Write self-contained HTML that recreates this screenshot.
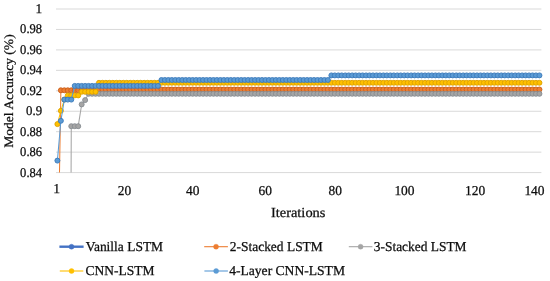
<!DOCTYPE html>
<html><head><meta charset="utf-8"><title>Model Accuracy chart</title>
<style>
html,body{margin:0;padding:0;background:#fff;}
body{width:550px;height:281px;overflow:hidden;}
svg{display:block;filter:blur(0.3px);}
text{text-rendering:geometricPrecision;font-family:"Liberation Serif","DejaVu Serif",serif;fill:#0d0d0d;stroke:#0d0d0d;stroke-width:0.25px;}
</style></head>
<body>
<svg width="550" height="281" viewBox="0 0 550 281">
<defs><clipPath id="pc"><rect x="53.0" y="6.0" width="491.4" height="166.6"/></clipPath></defs>
<rect width="550" height="281" fill="#fff"/>
<line x1="56.0" x2="541.4" y1="9.00" y2="9.00" stroke="#D9D9D9" stroke-width="1"/><line x1="56.0" x2="541.4" y1="29.45" y2="29.45" stroke="#D9D9D9" stroke-width="1"/><line x1="56.0" x2="541.4" y1="49.90" y2="49.90" stroke="#D9D9D9" stroke-width="1"/><line x1="56.0" x2="541.4" y1="70.35" y2="70.35" stroke="#D9D9D9" stroke-width="1"/><line x1="56.0" x2="541.4" y1="90.80" y2="90.80" stroke="#D9D9D9" stroke-width="1"/><line x1="56.0" x2="541.4" y1="111.25" y2="111.25" stroke="#D9D9D9" stroke-width="1"/><line x1="56.0" x2="541.4" y1="131.70" y2="131.70" stroke="#D9D9D9" stroke-width="1"/><line x1="56.0" x2="541.4" y1="152.15" y2="152.15" stroke="#D9D9D9" stroke-width="1"/><line x1="56.0" x2="541.4" y1="172.60" y2="172.60" stroke="#D9D9D9" stroke-width="1"/>
<text x="42.1" y="13.00" font-size="13.3" text-anchor="end">1</text><text x="42.1" y="33.45" font-size="13.3" text-anchor="end" textLength="22.0" lengthAdjust="spacingAndGlyphs">0.98</text><text x="42.1" y="53.90" font-size="13.3" text-anchor="end" textLength="22.0" lengthAdjust="spacingAndGlyphs">0.96</text><text x="42.1" y="74.35" font-size="13.3" text-anchor="end" textLength="22.0" lengthAdjust="spacingAndGlyphs">0.94</text><text x="42.1" y="94.80" font-size="13.3" text-anchor="end" textLength="22.0" lengthAdjust="spacingAndGlyphs">0.92</text><text x="42.1" y="115.25" font-size="13.3" text-anchor="end" textLength="16.0" lengthAdjust="spacingAndGlyphs">0.9</text><text x="42.1" y="135.70" font-size="13.3" text-anchor="end" textLength="22.0" lengthAdjust="spacingAndGlyphs">0.88</text><text x="42.1" y="156.15" font-size="13.3" text-anchor="end" textLength="22.0" lengthAdjust="spacingAndGlyphs">0.86</text><text x="42.1" y="176.60" font-size="13.3" text-anchor="end" textLength="22.0" lengthAdjust="spacingAndGlyphs">0.84</text>
<text x="56.75" y="193.20" font-size="13.6" text-anchor="middle">1</text><text x="124.5" y="195.40" font-size="13.6" text-anchor="middle" textLength="13.4" lengthAdjust="spacingAndGlyphs">20</text><text x="192.65" y="195.40" font-size="13.6" text-anchor="middle" textLength="13.4" lengthAdjust="spacingAndGlyphs">40</text><text x="265.2" y="195.40" font-size="13.6" text-anchor="middle" textLength="13.4" lengthAdjust="spacingAndGlyphs">60</text><text x="335.2" y="195.40" font-size="13.6" text-anchor="middle" textLength="13.4" lengthAdjust="spacingAndGlyphs">80</text><text x="404.5" y="195.40" font-size="13.6" text-anchor="middle" textLength="20.2" lengthAdjust="spacingAndGlyphs">100</text><text x="475.1" y="195.40" font-size="13.6" text-anchor="middle" textLength="20.2" lengthAdjust="spacingAndGlyphs">120</text><text x="534.5" y="195.40" font-size="13.6" text-anchor="middle" textLength="20.2" lengthAdjust="spacingAndGlyphs">140</text>
<text x="298.2" y="216.80" font-size="13.8" text-anchor="middle" textLength="54.5" lengthAdjust="spacingAndGlyphs">Iterations</text>
<g transform="translate(12.8,91.1) rotate(-90)"><text x="0" y="0.00" font-size="12.9" text-anchor="middle" textLength="113.5" lengthAdjust="spacingAndGlyphs">Model Accuracy (%)</text></g>
<polyline points="57.40,296.75 60.87,90.30 64.34,90.30 67.80,90.30 71.27,90.30 74.74,90.30 78.21,90.30 81.68,90.30 85.14,89.50 88.61,89.50 92.08,89.50 95.55,89.50 99.02,89.50 102.48,89.50 105.95,89.50 109.42,89.50 112.89,89.50 116.36,89.50 119.82,89.50 123.29,89.50 126.76,89.50 130.23,89.50 133.70,89.50 137.16,89.50 140.63,89.50 144.10,89.50 147.57,89.50 151.04,89.50 154.50,89.50 157.97,89.50 161.44,89.50 164.91,89.50 168.38,89.50 171.84,89.50 175.31,89.50 178.78,89.50 182.25,89.50 185.72,89.50 189.18,89.50 192.65,89.50 196.12,89.50 199.59,89.50 203.06,89.50 206.52,89.50 209.99,89.50 213.46,89.50 216.93,89.50 220.40,89.50 223.86,89.50 227.33,89.50 230.80,89.50 234.27,89.50 237.74,89.50 241.20,89.50 244.67,89.50 248.14,89.50 251.61,89.50 255.08,89.50 258.54,89.50 262.01,89.50 265.48,89.50 268.95,89.50 272.42,89.50 275.88,89.50 279.35,89.50 282.82,89.50 286.29,89.50 289.76,89.50 293.22,89.50 296.69,89.50 300.16,89.50 303.63,89.50 307.10,89.50 310.56,89.50 314.03,89.50 317.50,89.50 320.97,89.50 324.44,89.50 327.90,89.50 331.37,89.50 334.84,89.50 338.31,89.50 341.78,89.50 345.24,89.50 348.71,89.50 352.18,89.50 355.65,89.50 359.12,89.50 362.58,89.50 366.05,89.50 369.52,89.50 372.99,89.50 376.46,89.50 379.92,89.50 383.39,89.50 386.86,89.50 390.33,89.50 393.80,89.50 397.26,89.50 400.73,89.50 404.20,89.50 407.67,89.50 411.14,89.50 414.60,89.50 418.07,89.50 421.54,89.50 425.01,89.50 428.48,89.50 431.94,89.50 435.41,89.50 438.88,89.50 442.35,89.50 445.82,89.50 449.28,89.50 452.75,89.50 456.22,89.50 459.69,89.50 463.16,89.50 466.62,89.50 470.09,89.50 473.56,89.50 477.03,89.50 480.50,89.50 483.96,89.50 487.43,89.50 490.90,89.50 494.37,89.50 497.84,89.50 501.30,89.50 504.77,89.50 508.24,89.50 511.71,89.50 515.18,89.50 518.64,89.50 522.11,89.50 525.58,89.50 529.05,89.50 532.52,89.50 535.98,89.50 539.45,89.50" fill="none" stroke="#ED7D31" stroke-width="1.05" stroke-linejoin="round" clip-path="url(#pc)"/><g fill="#ED7D31" stroke="#C95E18" stroke-width="0.9"><circle cx="60.87" cy="90.30" r="2.5"/><circle cx="64.34" cy="90.30" r="2.5"/><circle cx="67.80" cy="90.30" r="2.5"/><circle cx="71.27" cy="90.30" r="2.5"/><circle cx="74.74" cy="90.30" r="2.5"/><circle cx="78.21" cy="90.30" r="2.5"/><circle cx="81.68" cy="90.30" r="2.5"/><circle cx="85.14" cy="89.50" r="2.5"/><circle cx="88.61" cy="89.50" r="2.5"/><circle cx="92.08" cy="89.50" r="2.5"/><circle cx="95.55" cy="89.50" r="2.5"/><circle cx="99.02" cy="89.50" r="2.5"/><circle cx="102.48" cy="89.50" r="2.5"/><circle cx="105.95" cy="89.50" r="2.5"/><circle cx="109.42" cy="89.50" r="2.5"/><circle cx="112.89" cy="89.50" r="2.5"/><circle cx="116.36" cy="89.50" r="2.5"/><circle cx="119.82" cy="89.50" r="2.5"/><circle cx="123.29" cy="89.50" r="2.5"/><circle cx="126.76" cy="89.50" r="2.5"/><circle cx="130.23" cy="89.50" r="2.5"/><circle cx="133.70" cy="89.50" r="2.5"/><circle cx="137.16" cy="89.50" r="2.5"/><circle cx="140.63" cy="89.50" r="2.5"/><circle cx="144.10" cy="89.50" r="2.5"/><circle cx="147.57" cy="89.50" r="2.5"/><circle cx="151.04" cy="89.50" r="2.5"/><circle cx="154.50" cy="89.50" r="2.5"/><circle cx="157.97" cy="89.50" r="2.5"/><circle cx="161.44" cy="89.50" r="2.5"/><circle cx="164.91" cy="89.50" r="2.5"/><circle cx="168.38" cy="89.50" r="2.5"/><circle cx="171.84" cy="89.50" r="2.5"/><circle cx="175.31" cy="89.50" r="2.5"/><circle cx="178.78" cy="89.50" r="2.5"/><circle cx="182.25" cy="89.50" r="2.5"/><circle cx="185.72" cy="89.50" r="2.5"/><circle cx="189.18" cy="89.50" r="2.5"/><circle cx="192.65" cy="89.50" r="2.5"/><circle cx="196.12" cy="89.50" r="2.5"/><circle cx="199.59" cy="89.50" r="2.5"/><circle cx="203.06" cy="89.50" r="2.5"/><circle cx="206.52" cy="89.50" r="2.5"/><circle cx="209.99" cy="89.50" r="2.5"/><circle cx="213.46" cy="89.50" r="2.5"/><circle cx="216.93" cy="89.50" r="2.5"/><circle cx="220.40" cy="89.50" r="2.5"/><circle cx="223.86" cy="89.50" r="2.5"/><circle cx="227.33" cy="89.50" r="2.5"/><circle cx="230.80" cy="89.50" r="2.5"/><circle cx="234.27" cy="89.50" r="2.5"/><circle cx="237.74" cy="89.50" r="2.5"/><circle cx="241.20" cy="89.50" r="2.5"/><circle cx="244.67" cy="89.50" r="2.5"/><circle cx="248.14" cy="89.50" r="2.5"/><circle cx="251.61" cy="89.50" r="2.5"/><circle cx="255.08" cy="89.50" r="2.5"/><circle cx="258.54" cy="89.50" r="2.5"/><circle cx="262.01" cy="89.50" r="2.5"/><circle cx="265.48" cy="89.50" r="2.5"/><circle cx="268.95" cy="89.50" r="2.5"/><circle cx="272.42" cy="89.50" r="2.5"/><circle cx="275.88" cy="89.50" r="2.5"/><circle cx="279.35" cy="89.50" r="2.5"/><circle cx="282.82" cy="89.50" r="2.5"/><circle cx="286.29" cy="89.50" r="2.5"/><circle cx="289.76" cy="89.50" r="2.5"/><circle cx="293.22" cy="89.50" r="2.5"/><circle cx="296.69" cy="89.50" r="2.5"/><circle cx="300.16" cy="89.50" r="2.5"/><circle cx="303.63" cy="89.50" r="2.5"/><circle cx="307.10" cy="89.50" r="2.5"/><circle cx="310.56" cy="89.50" r="2.5"/><circle cx="314.03" cy="89.50" r="2.5"/><circle cx="317.50" cy="89.50" r="2.5"/><circle cx="320.97" cy="89.50" r="2.5"/><circle cx="324.44" cy="89.50" r="2.5"/><circle cx="327.90" cy="89.50" r="2.5"/><circle cx="331.37" cy="89.50" r="2.5"/><circle cx="334.84" cy="89.50" r="2.5"/><circle cx="338.31" cy="89.50" r="2.5"/><circle cx="341.78" cy="89.50" r="2.5"/><circle cx="345.24" cy="89.50" r="2.5"/><circle cx="348.71" cy="89.50" r="2.5"/><circle cx="352.18" cy="89.50" r="2.5"/><circle cx="355.65" cy="89.50" r="2.5"/><circle cx="359.12" cy="89.50" r="2.5"/><circle cx="362.58" cy="89.50" r="2.5"/><circle cx="366.05" cy="89.50" r="2.5"/><circle cx="369.52" cy="89.50" r="2.5"/><circle cx="372.99" cy="89.50" r="2.5"/><circle cx="376.46" cy="89.50" r="2.5"/><circle cx="379.92" cy="89.50" r="2.5"/><circle cx="383.39" cy="89.50" r="2.5"/><circle cx="386.86" cy="89.50" r="2.5"/><circle cx="390.33" cy="89.50" r="2.5"/><circle cx="393.80" cy="89.50" r="2.5"/><circle cx="397.26" cy="89.50" r="2.5"/><circle cx="400.73" cy="89.50" r="2.5"/><circle cx="404.20" cy="89.50" r="2.5"/><circle cx="407.67" cy="89.50" r="2.5"/><circle cx="411.14" cy="89.50" r="2.5"/><circle cx="414.60" cy="89.50" r="2.5"/><circle cx="418.07" cy="89.50" r="2.5"/><circle cx="421.54" cy="89.50" r="2.5"/><circle cx="425.01" cy="89.50" r="2.5"/><circle cx="428.48" cy="89.50" r="2.5"/><circle cx="431.94" cy="89.50" r="2.5"/><circle cx="435.41" cy="89.50" r="2.5"/><circle cx="438.88" cy="89.50" r="2.5"/><circle cx="442.35" cy="89.50" r="2.5"/><circle cx="445.82" cy="89.50" r="2.5"/><circle cx="449.28" cy="89.50" r="2.5"/><circle cx="452.75" cy="89.50" r="2.5"/><circle cx="456.22" cy="89.50" r="2.5"/><circle cx="459.69" cy="89.50" r="2.5"/><circle cx="463.16" cy="89.50" r="2.5"/><circle cx="466.62" cy="89.50" r="2.5"/><circle cx="470.09" cy="89.50" r="2.5"/><circle cx="473.56" cy="89.50" r="2.5"/><circle cx="477.03" cy="89.50" r="2.5"/><circle cx="480.50" cy="89.50" r="2.5"/><circle cx="483.96" cy="89.50" r="2.5"/><circle cx="487.43" cy="89.50" r="2.5"/><circle cx="490.90" cy="89.50" r="2.5"/><circle cx="494.37" cy="89.50" r="2.5"/><circle cx="497.84" cy="89.50" r="2.5"/><circle cx="501.30" cy="89.50" r="2.5"/><circle cx="504.77" cy="89.50" r="2.5"/><circle cx="508.24" cy="89.50" r="2.5"/><circle cx="511.71" cy="89.50" r="2.5"/><circle cx="515.18" cy="89.50" r="2.5"/><circle cx="518.64" cy="89.50" r="2.5"/><circle cx="522.11" cy="89.50" r="2.5"/><circle cx="525.58" cy="89.50" r="2.5"/><circle cx="529.05" cy="89.50" r="2.5"/><circle cx="532.52" cy="89.50" r="2.5"/><circle cx="535.98" cy="89.50" r="2.5"/><circle cx="539.45" cy="89.50" r="2.5"/></g><polyline points="57.40,1031.00 60.87,1031.00 64.34,1031.00 67.80,1031.00 71.27,126.20 74.74,126.20 78.21,126.20 81.68,104.40 85.14,100.10 88.61,93.80 92.08,93.80 95.55,93.80 99.02,93.80 102.48,93.80 105.95,93.80 109.42,93.80 112.89,93.80 116.36,93.80 119.82,93.80 123.29,93.80 126.76,93.80 130.23,93.80 133.70,93.80 137.16,93.80 140.63,93.80 144.10,93.80 147.57,93.80 151.04,93.80 154.50,93.80 157.97,93.80 161.44,93.80 164.91,93.80 168.38,93.80 171.84,93.80 175.31,93.80 178.78,93.80 182.25,93.80 185.72,93.80 189.18,93.80 192.65,93.80 196.12,93.80 199.59,93.80 203.06,93.80 206.52,93.80 209.99,93.80 213.46,93.80 216.93,93.80 220.40,93.80 223.86,93.80 227.33,93.80 230.80,93.80 234.27,93.80 237.74,93.80 241.20,93.80 244.67,93.80 248.14,93.80 251.61,93.80 255.08,93.80 258.54,93.80 262.01,93.80 265.48,93.80 268.95,93.80 272.42,93.80 275.88,93.80 279.35,93.80 282.82,93.80 286.29,93.80 289.76,93.80 293.22,93.80 296.69,93.80 300.16,93.80 303.63,93.80 307.10,93.80 310.56,93.80 314.03,93.80 317.50,93.80 320.97,93.80 324.44,93.80 327.90,93.80 331.37,93.80 334.84,93.80 338.31,93.80 341.78,93.80 345.24,93.80 348.71,93.80 352.18,93.80 355.65,93.80 359.12,93.80 362.58,93.80 366.05,93.80 369.52,93.80 372.99,93.80 376.46,93.80 379.92,93.80 383.39,93.80 386.86,93.80 390.33,93.80 393.80,93.80 397.26,93.80 400.73,93.80 404.20,93.80 407.67,93.80 411.14,93.80 414.60,93.80 418.07,93.80 421.54,93.80 425.01,93.80 428.48,93.80 431.94,93.80 435.41,93.80 438.88,93.80 442.35,93.80 445.82,93.80 449.28,93.80 452.75,93.80 456.22,93.80 459.69,93.80 463.16,93.80 466.62,93.80 470.09,93.80 473.56,93.80 477.03,93.80 480.50,93.80 483.96,93.80 487.43,93.80 490.90,93.80 494.37,93.80 497.84,93.80 501.30,93.80 504.77,93.80 508.24,93.80 511.71,93.80 515.18,93.80 518.64,93.80 522.11,93.80 525.58,93.80 529.05,93.80 532.52,93.80 535.98,93.80 539.45,93.80" fill="none" stroke="#A5A5A5" stroke-width="1.05" stroke-linejoin="round" clip-path="url(#pc)"/><g fill="#A5A5A5" stroke="#878C92" stroke-width="0.9"><circle cx="71.27" cy="126.20" r="2.5"/><circle cx="74.74" cy="126.20" r="2.5"/><circle cx="78.21" cy="126.20" r="2.5"/><circle cx="81.68" cy="104.40" r="2.5"/><circle cx="85.14" cy="100.10" r="2.5"/><circle cx="88.61" cy="93.80" r="2.5"/><circle cx="92.08" cy="93.80" r="2.5"/><circle cx="95.55" cy="93.80" r="2.5"/><circle cx="99.02" cy="93.80" r="2.5"/><circle cx="102.48" cy="93.80" r="2.5"/><circle cx="105.95" cy="93.80" r="2.5"/><circle cx="109.42" cy="93.80" r="2.5"/><circle cx="112.89" cy="93.80" r="2.5"/><circle cx="116.36" cy="93.80" r="2.5"/><circle cx="119.82" cy="93.80" r="2.5"/><circle cx="123.29" cy="93.80" r="2.5"/><circle cx="126.76" cy="93.80" r="2.5"/><circle cx="130.23" cy="93.80" r="2.5"/><circle cx="133.70" cy="93.80" r="2.5"/><circle cx="137.16" cy="93.80" r="2.5"/><circle cx="140.63" cy="93.80" r="2.5"/><circle cx="144.10" cy="93.80" r="2.5"/><circle cx="147.57" cy="93.80" r="2.5"/><circle cx="151.04" cy="93.80" r="2.5"/><circle cx="154.50" cy="93.80" r="2.5"/><circle cx="157.97" cy="93.80" r="2.5"/><circle cx="161.44" cy="93.80" r="2.5"/><circle cx="164.91" cy="93.80" r="2.5"/><circle cx="168.38" cy="93.80" r="2.5"/><circle cx="171.84" cy="93.80" r="2.5"/><circle cx="175.31" cy="93.80" r="2.5"/><circle cx="178.78" cy="93.80" r="2.5"/><circle cx="182.25" cy="93.80" r="2.5"/><circle cx="185.72" cy="93.80" r="2.5"/><circle cx="189.18" cy="93.80" r="2.5"/><circle cx="192.65" cy="93.80" r="2.5"/><circle cx="196.12" cy="93.80" r="2.5"/><circle cx="199.59" cy="93.80" r="2.5"/><circle cx="203.06" cy="93.80" r="2.5"/><circle cx="206.52" cy="93.80" r="2.5"/><circle cx="209.99" cy="93.80" r="2.5"/><circle cx="213.46" cy="93.80" r="2.5"/><circle cx="216.93" cy="93.80" r="2.5"/><circle cx="220.40" cy="93.80" r="2.5"/><circle cx="223.86" cy="93.80" r="2.5"/><circle cx="227.33" cy="93.80" r="2.5"/><circle cx="230.80" cy="93.80" r="2.5"/><circle cx="234.27" cy="93.80" r="2.5"/><circle cx="237.74" cy="93.80" r="2.5"/><circle cx="241.20" cy="93.80" r="2.5"/><circle cx="244.67" cy="93.80" r="2.5"/><circle cx="248.14" cy="93.80" r="2.5"/><circle cx="251.61" cy="93.80" r="2.5"/><circle cx="255.08" cy="93.80" r="2.5"/><circle cx="258.54" cy="93.80" r="2.5"/><circle cx="262.01" cy="93.80" r="2.5"/><circle cx="265.48" cy="93.80" r="2.5"/><circle cx="268.95" cy="93.80" r="2.5"/><circle cx="272.42" cy="93.80" r="2.5"/><circle cx="275.88" cy="93.80" r="2.5"/><circle cx="279.35" cy="93.80" r="2.5"/><circle cx="282.82" cy="93.80" r="2.5"/><circle cx="286.29" cy="93.80" r="2.5"/><circle cx="289.76" cy="93.80" r="2.5"/><circle cx="293.22" cy="93.80" r="2.5"/><circle cx="296.69" cy="93.80" r="2.5"/><circle cx="300.16" cy="93.80" r="2.5"/><circle cx="303.63" cy="93.80" r="2.5"/><circle cx="307.10" cy="93.80" r="2.5"/><circle cx="310.56" cy="93.80" r="2.5"/><circle cx="314.03" cy="93.80" r="2.5"/><circle cx="317.50" cy="93.80" r="2.5"/><circle cx="320.97" cy="93.80" r="2.5"/><circle cx="324.44" cy="93.80" r="2.5"/><circle cx="327.90" cy="93.80" r="2.5"/><circle cx="331.37" cy="93.80" r="2.5"/><circle cx="334.84" cy="93.80" r="2.5"/><circle cx="338.31" cy="93.80" r="2.5"/><circle cx="341.78" cy="93.80" r="2.5"/><circle cx="345.24" cy="93.80" r="2.5"/><circle cx="348.71" cy="93.80" r="2.5"/><circle cx="352.18" cy="93.80" r="2.5"/><circle cx="355.65" cy="93.80" r="2.5"/><circle cx="359.12" cy="93.80" r="2.5"/><circle cx="362.58" cy="93.80" r="2.5"/><circle cx="366.05" cy="93.80" r="2.5"/><circle cx="369.52" cy="93.80" r="2.5"/><circle cx="372.99" cy="93.80" r="2.5"/><circle cx="376.46" cy="93.80" r="2.5"/><circle cx="379.92" cy="93.80" r="2.5"/><circle cx="383.39" cy="93.80" r="2.5"/><circle cx="386.86" cy="93.80" r="2.5"/><circle cx="390.33" cy="93.80" r="2.5"/><circle cx="393.80" cy="93.80" r="2.5"/><circle cx="397.26" cy="93.80" r="2.5"/><circle cx="400.73" cy="93.80" r="2.5"/><circle cx="404.20" cy="93.80" r="2.5"/><circle cx="407.67" cy="93.80" r="2.5"/><circle cx="411.14" cy="93.80" r="2.5"/><circle cx="414.60" cy="93.80" r="2.5"/><circle cx="418.07" cy="93.80" r="2.5"/><circle cx="421.54" cy="93.80" r="2.5"/><circle cx="425.01" cy="93.80" r="2.5"/><circle cx="428.48" cy="93.80" r="2.5"/><circle cx="431.94" cy="93.80" r="2.5"/><circle cx="435.41" cy="93.80" r="2.5"/><circle cx="438.88" cy="93.80" r="2.5"/><circle cx="442.35" cy="93.80" r="2.5"/><circle cx="445.82" cy="93.80" r="2.5"/><circle cx="449.28" cy="93.80" r="2.5"/><circle cx="452.75" cy="93.80" r="2.5"/><circle cx="456.22" cy="93.80" r="2.5"/><circle cx="459.69" cy="93.80" r="2.5"/><circle cx="463.16" cy="93.80" r="2.5"/><circle cx="466.62" cy="93.80" r="2.5"/><circle cx="470.09" cy="93.80" r="2.5"/><circle cx="473.56" cy="93.80" r="2.5"/><circle cx="477.03" cy="93.80" r="2.5"/><circle cx="480.50" cy="93.80" r="2.5"/><circle cx="483.96" cy="93.80" r="2.5"/><circle cx="487.43" cy="93.80" r="2.5"/><circle cx="490.90" cy="93.80" r="2.5"/><circle cx="494.37" cy="93.80" r="2.5"/><circle cx="497.84" cy="93.80" r="2.5"/><circle cx="501.30" cy="93.80" r="2.5"/><circle cx="504.77" cy="93.80" r="2.5"/><circle cx="508.24" cy="93.80" r="2.5"/><circle cx="511.71" cy="93.80" r="2.5"/><circle cx="515.18" cy="93.80" r="2.5"/><circle cx="518.64" cy="93.80" r="2.5"/><circle cx="522.11" cy="93.80" r="2.5"/><circle cx="525.58" cy="93.80" r="2.5"/><circle cx="529.05" cy="93.80" r="2.5"/><circle cx="532.52" cy="93.80" r="2.5"/><circle cx="535.98" cy="93.80" r="2.5"/><circle cx="539.45" cy="93.80" r="2.5"/></g><polyline points="57.40,124.10 60.87,110.80 64.34,99.60 67.80,95.40 71.27,95.40 74.74,95.40 78.21,95.40 81.68,91.80 85.14,91.80 88.61,91.80 92.08,91.80 95.55,91.80 99.02,82.80 102.48,82.80 105.95,82.80 109.42,82.80 112.89,82.80 116.36,82.80 119.82,82.80 123.29,82.80 126.76,82.80 130.23,82.80 133.70,82.80 137.16,82.80 140.63,82.80 144.10,82.80 147.57,82.80 151.04,82.80 154.50,82.80 157.97,82.80 161.44,82.80 164.91,82.80 168.38,82.80 171.84,82.80 175.31,82.80 178.78,82.80 182.25,82.80 185.72,82.80 189.18,82.80 192.65,82.80 196.12,82.80 199.59,82.80 203.06,82.80 206.52,82.80 209.99,82.80 213.46,82.80 216.93,82.80 220.40,82.80 223.86,82.80 227.33,82.80 230.80,82.80 234.27,82.80 237.74,82.80 241.20,82.80 244.67,82.80 248.14,82.80 251.61,82.80 255.08,82.80 258.54,82.80 262.01,82.80 265.48,82.80 268.95,82.80 272.42,82.80 275.88,82.80 279.35,82.80 282.82,82.80 286.29,82.80 289.76,82.80 293.22,82.80 296.69,82.80 300.16,82.80 303.63,82.80 307.10,82.80 310.56,82.80 314.03,82.80 317.50,82.80 320.97,82.80 324.44,82.80 327.90,82.80 331.37,82.80 334.84,82.80 338.31,82.80 341.78,82.80 345.24,82.80 348.71,82.80 352.18,82.80 355.65,82.80 359.12,82.80 362.58,82.80 366.05,82.80 369.52,82.80 372.99,82.80 376.46,82.80 379.92,82.80 383.39,82.80 386.86,82.80 390.33,82.80 393.80,82.80 397.26,82.80 400.73,82.80 404.20,82.80 407.67,82.80 411.14,82.80 414.60,82.80 418.07,82.80 421.54,82.80 425.01,82.80 428.48,82.80 431.94,82.80 435.41,82.80 438.88,82.80 442.35,82.80 445.82,82.80 449.28,82.80 452.75,82.80 456.22,82.80 459.69,82.80 463.16,82.80 466.62,82.80 470.09,82.80 473.56,82.80 477.03,82.80 480.50,82.80 483.96,82.80 487.43,82.80 490.90,82.80 494.37,82.80 497.84,82.80 501.30,82.80 504.77,82.80 508.24,82.80 511.71,82.80 515.18,82.80 518.64,82.80 522.11,82.80 525.58,82.80 529.05,82.80 532.52,82.80 535.98,82.80 539.45,82.80" fill="none" stroke="#FFC000" stroke-width="1.05" stroke-linejoin="round" clip-path="url(#pc)"/><g fill="#FFC000" stroke="#DDA000" stroke-width="0.9"><circle cx="57.40" cy="124.10" r="2.5"/><circle cx="60.87" cy="110.80" r="2.5"/><circle cx="64.34" cy="99.60" r="2.5"/><circle cx="67.80" cy="95.40" r="2.5"/><circle cx="71.27" cy="95.40" r="2.5"/><circle cx="74.74" cy="95.40" r="2.5"/><circle cx="78.21" cy="95.40" r="2.5"/><circle cx="81.68" cy="91.80" r="2.5"/><circle cx="85.14" cy="91.80" r="2.5"/><circle cx="88.61" cy="91.80" r="2.5"/><circle cx="92.08" cy="91.80" r="2.5"/><circle cx="95.55" cy="91.80" r="2.5"/><circle cx="99.02" cy="82.80" r="2.5"/><circle cx="102.48" cy="82.80" r="2.5"/><circle cx="105.95" cy="82.80" r="2.5"/><circle cx="109.42" cy="82.80" r="2.5"/><circle cx="112.89" cy="82.80" r="2.5"/><circle cx="116.36" cy="82.80" r="2.5"/><circle cx="119.82" cy="82.80" r="2.5"/><circle cx="123.29" cy="82.80" r="2.5"/><circle cx="126.76" cy="82.80" r="2.5"/><circle cx="130.23" cy="82.80" r="2.5"/><circle cx="133.70" cy="82.80" r="2.5"/><circle cx="137.16" cy="82.80" r="2.5"/><circle cx="140.63" cy="82.80" r="2.5"/><circle cx="144.10" cy="82.80" r="2.5"/><circle cx="147.57" cy="82.80" r="2.5"/><circle cx="151.04" cy="82.80" r="2.5"/><circle cx="154.50" cy="82.80" r="2.5"/><circle cx="157.97" cy="82.80" r="2.5"/><circle cx="161.44" cy="82.80" r="2.5"/><circle cx="164.91" cy="82.80" r="2.5"/><circle cx="168.38" cy="82.80" r="2.5"/><circle cx="171.84" cy="82.80" r="2.5"/><circle cx="175.31" cy="82.80" r="2.5"/><circle cx="178.78" cy="82.80" r="2.5"/><circle cx="182.25" cy="82.80" r="2.5"/><circle cx="185.72" cy="82.80" r="2.5"/><circle cx="189.18" cy="82.80" r="2.5"/><circle cx="192.65" cy="82.80" r="2.5"/><circle cx="196.12" cy="82.80" r="2.5"/><circle cx="199.59" cy="82.80" r="2.5"/><circle cx="203.06" cy="82.80" r="2.5"/><circle cx="206.52" cy="82.80" r="2.5"/><circle cx="209.99" cy="82.80" r="2.5"/><circle cx="213.46" cy="82.80" r="2.5"/><circle cx="216.93" cy="82.80" r="2.5"/><circle cx="220.40" cy="82.80" r="2.5"/><circle cx="223.86" cy="82.80" r="2.5"/><circle cx="227.33" cy="82.80" r="2.5"/><circle cx="230.80" cy="82.80" r="2.5"/><circle cx="234.27" cy="82.80" r="2.5"/><circle cx="237.74" cy="82.80" r="2.5"/><circle cx="241.20" cy="82.80" r="2.5"/><circle cx="244.67" cy="82.80" r="2.5"/><circle cx="248.14" cy="82.80" r="2.5"/><circle cx="251.61" cy="82.80" r="2.5"/><circle cx="255.08" cy="82.80" r="2.5"/><circle cx="258.54" cy="82.80" r="2.5"/><circle cx="262.01" cy="82.80" r="2.5"/><circle cx="265.48" cy="82.80" r="2.5"/><circle cx="268.95" cy="82.80" r="2.5"/><circle cx="272.42" cy="82.80" r="2.5"/><circle cx="275.88" cy="82.80" r="2.5"/><circle cx="279.35" cy="82.80" r="2.5"/><circle cx="282.82" cy="82.80" r="2.5"/><circle cx="286.29" cy="82.80" r="2.5"/><circle cx="289.76" cy="82.80" r="2.5"/><circle cx="293.22" cy="82.80" r="2.5"/><circle cx="296.69" cy="82.80" r="2.5"/><circle cx="300.16" cy="82.80" r="2.5"/><circle cx="303.63" cy="82.80" r="2.5"/><circle cx="307.10" cy="82.80" r="2.5"/><circle cx="310.56" cy="82.80" r="2.5"/><circle cx="314.03" cy="82.80" r="2.5"/><circle cx="317.50" cy="82.80" r="2.5"/><circle cx="320.97" cy="82.80" r="2.5"/><circle cx="324.44" cy="82.80" r="2.5"/><circle cx="327.90" cy="82.80" r="2.5"/><circle cx="331.37" cy="82.80" r="2.5"/><circle cx="334.84" cy="82.80" r="2.5"/><circle cx="338.31" cy="82.80" r="2.5"/><circle cx="341.78" cy="82.80" r="2.5"/><circle cx="345.24" cy="82.80" r="2.5"/><circle cx="348.71" cy="82.80" r="2.5"/><circle cx="352.18" cy="82.80" r="2.5"/><circle cx="355.65" cy="82.80" r="2.5"/><circle cx="359.12" cy="82.80" r="2.5"/><circle cx="362.58" cy="82.80" r="2.5"/><circle cx="366.05" cy="82.80" r="2.5"/><circle cx="369.52" cy="82.80" r="2.5"/><circle cx="372.99" cy="82.80" r="2.5"/><circle cx="376.46" cy="82.80" r="2.5"/><circle cx="379.92" cy="82.80" r="2.5"/><circle cx="383.39" cy="82.80" r="2.5"/><circle cx="386.86" cy="82.80" r="2.5"/><circle cx="390.33" cy="82.80" r="2.5"/><circle cx="393.80" cy="82.80" r="2.5"/><circle cx="397.26" cy="82.80" r="2.5"/><circle cx="400.73" cy="82.80" r="2.5"/><circle cx="404.20" cy="82.80" r="2.5"/><circle cx="407.67" cy="82.80" r="2.5"/><circle cx="411.14" cy="82.80" r="2.5"/><circle cx="414.60" cy="82.80" r="2.5"/><circle cx="418.07" cy="82.80" r="2.5"/><circle cx="421.54" cy="82.80" r="2.5"/><circle cx="425.01" cy="82.80" r="2.5"/><circle cx="428.48" cy="82.80" r="2.5"/><circle cx="431.94" cy="82.80" r="2.5"/><circle cx="435.41" cy="82.80" r="2.5"/><circle cx="438.88" cy="82.80" r="2.5"/><circle cx="442.35" cy="82.80" r="2.5"/><circle cx="445.82" cy="82.80" r="2.5"/><circle cx="449.28" cy="82.80" r="2.5"/><circle cx="452.75" cy="82.80" r="2.5"/><circle cx="456.22" cy="82.80" r="2.5"/><circle cx="459.69" cy="82.80" r="2.5"/><circle cx="463.16" cy="82.80" r="2.5"/><circle cx="466.62" cy="82.80" r="2.5"/><circle cx="470.09" cy="82.80" r="2.5"/><circle cx="473.56" cy="82.80" r="2.5"/><circle cx="477.03" cy="82.80" r="2.5"/><circle cx="480.50" cy="82.80" r="2.5"/><circle cx="483.96" cy="82.80" r="2.5"/><circle cx="487.43" cy="82.80" r="2.5"/><circle cx="490.90" cy="82.80" r="2.5"/><circle cx="494.37" cy="82.80" r="2.5"/><circle cx="497.84" cy="82.80" r="2.5"/><circle cx="501.30" cy="82.80" r="2.5"/><circle cx="504.77" cy="82.80" r="2.5"/><circle cx="508.24" cy="82.80" r="2.5"/><circle cx="511.71" cy="82.80" r="2.5"/><circle cx="515.18" cy="82.80" r="2.5"/><circle cx="518.64" cy="82.80" r="2.5"/><circle cx="522.11" cy="82.80" r="2.5"/><circle cx="525.58" cy="82.80" r="2.5"/><circle cx="529.05" cy="82.80" r="2.5"/><circle cx="532.52" cy="82.80" r="2.5"/><circle cx="535.98" cy="82.80" r="2.5"/><circle cx="539.45" cy="82.80" r="2.5"/></g><polyline points="57.40,160.60 60.87,120.80 64.34,99.60 67.80,99.60 71.27,99.60 74.74,85.90 78.21,85.90 81.68,85.90 85.14,85.90 88.61,85.90 92.08,85.90 95.55,85.90 99.02,85.90 102.48,85.90 105.95,85.90 109.42,85.90 112.89,85.90 116.36,85.90 119.82,85.90 123.29,85.90 126.76,85.90 130.23,85.90 133.70,85.90 137.16,85.90 140.63,85.90 144.10,85.90 147.57,85.90 151.04,85.90 154.50,85.90 157.97,85.90 161.44,80.00 164.91,80.00 168.38,80.00 171.84,80.00 175.31,80.00 178.78,80.00 182.25,80.00 185.72,80.00 189.18,80.00 192.65,80.00 196.12,80.00 199.59,80.00 203.06,80.00 206.52,80.00 209.99,80.00 213.46,80.00 216.93,80.00 220.40,80.00 223.86,80.00 227.33,80.00 230.80,80.00 234.27,80.00 237.74,80.00 241.20,80.00 244.67,80.00 248.14,80.00 251.61,80.00 255.08,80.00 258.54,80.00 262.01,80.00 265.48,80.00 268.95,80.00 272.42,80.00 275.88,80.00 279.35,80.00 282.82,80.00 286.29,80.00 289.76,80.00 293.22,80.00 296.69,80.00 300.16,80.00 303.63,80.00 307.10,80.00 310.56,80.00 314.03,80.00 317.50,80.00 320.97,80.00 324.44,80.00 327.90,80.00 331.37,75.40 334.84,75.40 338.31,75.40 341.78,75.40 345.24,75.40 348.71,75.40 352.18,75.40 355.65,75.40 359.12,75.40 362.58,75.40 366.05,75.40 369.52,75.40 372.99,75.40 376.46,75.40 379.92,75.40 383.39,75.40 386.86,75.40 390.33,75.40 393.80,75.40 397.26,75.40 400.73,75.40 404.20,75.40 407.67,75.40 411.14,75.40 414.60,75.40 418.07,75.40 421.54,75.40 425.01,75.40 428.48,75.40 431.94,75.40 435.41,75.40 438.88,75.40 442.35,75.40 445.82,75.40 449.28,75.40 452.75,75.40 456.22,75.40 459.69,75.40 463.16,75.40 466.62,75.40 470.09,75.40 473.56,75.40 477.03,75.40 480.50,75.40 483.96,75.40 487.43,75.40 490.90,75.40 494.37,75.40 497.84,75.40 501.30,75.40 504.77,75.40 508.24,75.40 511.71,75.40 515.18,75.40 518.64,75.40 522.11,75.40 525.58,75.40 529.05,75.40 532.52,75.40 535.98,75.40 539.45,75.40" fill="none" stroke="#5B9BD5" stroke-width="1.05" stroke-linejoin="round" clip-path="url(#pc)"/><g fill="#5B9BD5" stroke="#3B79BA" stroke-width="0.9"><circle cx="57.40" cy="160.60" r="2.5"/><circle cx="60.87" cy="120.80" r="2.5"/><circle cx="64.34" cy="99.60" r="2.5"/><circle cx="67.80" cy="99.60" r="2.5"/><circle cx="71.27" cy="99.60" r="2.5"/><circle cx="74.74" cy="85.90" r="2.5"/><circle cx="78.21" cy="85.90" r="2.5"/><circle cx="81.68" cy="85.90" r="2.5"/><circle cx="85.14" cy="85.90" r="2.5"/><circle cx="88.61" cy="85.90" r="2.5"/><circle cx="92.08" cy="85.90" r="2.5"/><circle cx="95.55" cy="85.90" r="2.5"/><circle cx="99.02" cy="85.90" r="2.5"/><circle cx="102.48" cy="85.90" r="2.5"/><circle cx="105.95" cy="85.90" r="2.5"/><circle cx="109.42" cy="85.90" r="2.5"/><circle cx="112.89" cy="85.90" r="2.5"/><circle cx="116.36" cy="85.90" r="2.5"/><circle cx="119.82" cy="85.90" r="2.5"/><circle cx="123.29" cy="85.90" r="2.5"/><circle cx="126.76" cy="85.90" r="2.5"/><circle cx="130.23" cy="85.90" r="2.5"/><circle cx="133.70" cy="85.90" r="2.5"/><circle cx="137.16" cy="85.90" r="2.5"/><circle cx="140.63" cy="85.90" r="2.5"/><circle cx="144.10" cy="85.90" r="2.5"/><circle cx="147.57" cy="85.90" r="2.5"/><circle cx="151.04" cy="85.90" r="2.5"/><circle cx="154.50" cy="85.90" r="2.5"/><circle cx="157.97" cy="85.90" r="2.5"/><circle cx="161.44" cy="80.00" r="2.5"/><circle cx="164.91" cy="80.00" r="2.5"/><circle cx="168.38" cy="80.00" r="2.5"/><circle cx="171.84" cy="80.00" r="2.5"/><circle cx="175.31" cy="80.00" r="2.5"/><circle cx="178.78" cy="80.00" r="2.5"/><circle cx="182.25" cy="80.00" r="2.5"/><circle cx="185.72" cy="80.00" r="2.5"/><circle cx="189.18" cy="80.00" r="2.5"/><circle cx="192.65" cy="80.00" r="2.5"/><circle cx="196.12" cy="80.00" r="2.5"/><circle cx="199.59" cy="80.00" r="2.5"/><circle cx="203.06" cy="80.00" r="2.5"/><circle cx="206.52" cy="80.00" r="2.5"/><circle cx="209.99" cy="80.00" r="2.5"/><circle cx="213.46" cy="80.00" r="2.5"/><circle cx="216.93" cy="80.00" r="2.5"/><circle cx="220.40" cy="80.00" r="2.5"/><circle cx="223.86" cy="80.00" r="2.5"/><circle cx="227.33" cy="80.00" r="2.5"/><circle cx="230.80" cy="80.00" r="2.5"/><circle cx="234.27" cy="80.00" r="2.5"/><circle cx="237.74" cy="80.00" r="2.5"/><circle cx="241.20" cy="80.00" r="2.5"/><circle cx="244.67" cy="80.00" r="2.5"/><circle cx="248.14" cy="80.00" r="2.5"/><circle cx="251.61" cy="80.00" r="2.5"/><circle cx="255.08" cy="80.00" r="2.5"/><circle cx="258.54" cy="80.00" r="2.5"/><circle cx="262.01" cy="80.00" r="2.5"/><circle cx="265.48" cy="80.00" r="2.5"/><circle cx="268.95" cy="80.00" r="2.5"/><circle cx="272.42" cy="80.00" r="2.5"/><circle cx="275.88" cy="80.00" r="2.5"/><circle cx="279.35" cy="80.00" r="2.5"/><circle cx="282.82" cy="80.00" r="2.5"/><circle cx="286.29" cy="80.00" r="2.5"/><circle cx="289.76" cy="80.00" r="2.5"/><circle cx="293.22" cy="80.00" r="2.5"/><circle cx="296.69" cy="80.00" r="2.5"/><circle cx="300.16" cy="80.00" r="2.5"/><circle cx="303.63" cy="80.00" r="2.5"/><circle cx="307.10" cy="80.00" r="2.5"/><circle cx="310.56" cy="80.00" r="2.5"/><circle cx="314.03" cy="80.00" r="2.5"/><circle cx="317.50" cy="80.00" r="2.5"/><circle cx="320.97" cy="80.00" r="2.5"/><circle cx="324.44" cy="80.00" r="2.5"/><circle cx="327.90" cy="80.00" r="2.5"/><circle cx="331.37" cy="75.40" r="2.5"/><circle cx="334.84" cy="75.40" r="2.5"/><circle cx="338.31" cy="75.40" r="2.5"/><circle cx="341.78" cy="75.40" r="2.5"/><circle cx="345.24" cy="75.40" r="2.5"/><circle cx="348.71" cy="75.40" r="2.5"/><circle cx="352.18" cy="75.40" r="2.5"/><circle cx="355.65" cy="75.40" r="2.5"/><circle cx="359.12" cy="75.40" r="2.5"/><circle cx="362.58" cy="75.40" r="2.5"/><circle cx="366.05" cy="75.40" r="2.5"/><circle cx="369.52" cy="75.40" r="2.5"/><circle cx="372.99" cy="75.40" r="2.5"/><circle cx="376.46" cy="75.40" r="2.5"/><circle cx="379.92" cy="75.40" r="2.5"/><circle cx="383.39" cy="75.40" r="2.5"/><circle cx="386.86" cy="75.40" r="2.5"/><circle cx="390.33" cy="75.40" r="2.5"/><circle cx="393.80" cy="75.40" r="2.5"/><circle cx="397.26" cy="75.40" r="2.5"/><circle cx="400.73" cy="75.40" r="2.5"/><circle cx="404.20" cy="75.40" r="2.5"/><circle cx="407.67" cy="75.40" r="2.5"/><circle cx="411.14" cy="75.40" r="2.5"/><circle cx="414.60" cy="75.40" r="2.5"/><circle cx="418.07" cy="75.40" r="2.5"/><circle cx="421.54" cy="75.40" r="2.5"/><circle cx="425.01" cy="75.40" r="2.5"/><circle cx="428.48" cy="75.40" r="2.5"/><circle cx="431.94" cy="75.40" r="2.5"/><circle cx="435.41" cy="75.40" r="2.5"/><circle cx="438.88" cy="75.40" r="2.5"/><circle cx="442.35" cy="75.40" r="2.5"/><circle cx="445.82" cy="75.40" r="2.5"/><circle cx="449.28" cy="75.40" r="2.5"/><circle cx="452.75" cy="75.40" r="2.5"/><circle cx="456.22" cy="75.40" r="2.5"/><circle cx="459.69" cy="75.40" r="2.5"/><circle cx="463.16" cy="75.40" r="2.5"/><circle cx="466.62" cy="75.40" r="2.5"/><circle cx="470.09" cy="75.40" r="2.5"/><circle cx="473.56" cy="75.40" r="2.5"/><circle cx="477.03" cy="75.40" r="2.5"/><circle cx="480.50" cy="75.40" r="2.5"/><circle cx="483.96" cy="75.40" r="2.5"/><circle cx="487.43" cy="75.40" r="2.5"/><circle cx="490.90" cy="75.40" r="2.5"/><circle cx="494.37" cy="75.40" r="2.5"/><circle cx="497.84" cy="75.40" r="2.5"/><circle cx="501.30" cy="75.40" r="2.5"/><circle cx="504.77" cy="75.40" r="2.5"/><circle cx="508.24" cy="75.40" r="2.5"/><circle cx="511.71" cy="75.40" r="2.5"/><circle cx="515.18" cy="75.40" r="2.5"/><circle cx="518.64" cy="75.40" r="2.5"/><circle cx="522.11" cy="75.40" r="2.5"/><circle cx="525.58" cy="75.40" r="2.5"/><circle cx="529.05" cy="75.40" r="2.5"/><circle cx="532.52" cy="75.40" r="2.5"/><circle cx="535.98" cy="75.40" r="2.5"/><circle cx="539.45" cy="75.40" r="2.5"/></g>
<line x1="59.4" x2="83.6" y1="246.7" y2="246.7" stroke="#4472C4" stroke-width="2.4"/><circle cx="71.50" cy="246.7" r="2.5" fill="#4472C4" stroke="#4472C4" stroke-width="0.4"/><text x="85.7" y="250.50" font-size="13.6" textLength="77.4" lengthAdjust="spacingAndGlyphs">Vanilla LSTM</text><line x1="204.2" x2="227.9" y1="246.7" y2="246.7" stroke="#ED7D31" stroke-width="1.1"/><circle cx="216.05" cy="246.7" r="2.5" fill="#ED7D31" stroke="#ED7D31" stroke-width="0.4"/><text x="229.8" y="250.50" font-size="13.6" textLength="93.0" lengthAdjust="spacingAndGlyphs">2-Stacked LSTM</text><line x1="348.8" x2="372.4" y1="246.7" y2="246.7" stroke="#A5A5A5" stroke-width="1.1"/><circle cx="360.60" cy="246.7" r="2.5" fill="#A5A5A5" stroke="#A5A5A5" stroke-width="0.4"/><text x="373.8" y="250.50" font-size="13.6" textLength="92.7" lengthAdjust="spacingAndGlyphs">3-Stacked LSTM</text><line x1="59.8" x2="83.3" y1="271.0" y2="271.0" stroke="#FFC000" stroke-width="1.1"/><circle cx="71.55" cy="271.0" r="2.5" fill="#FFC000" stroke="#FFC000" stroke-width="0.4"/><text x="85.5" y="274.60" font-size="13.6" textLength="68.9" lengthAdjust="spacingAndGlyphs">CNN-LSTM</text><line x1="204.4" x2="227.9" y1="271.0" y2="271.0" stroke="#5B9BD5" stroke-width="1.1"/><circle cx="216.15" cy="271.0" r="2.5" fill="#5B9BD5" stroke="#5B9BD5" stroke-width="0.4"/><text x="229.2" y="274.60" font-size="13.6" textLength="115.8" lengthAdjust="spacingAndGlyphs">4-Layer CNN-LSTM</text>
</svg>
</body></html>
